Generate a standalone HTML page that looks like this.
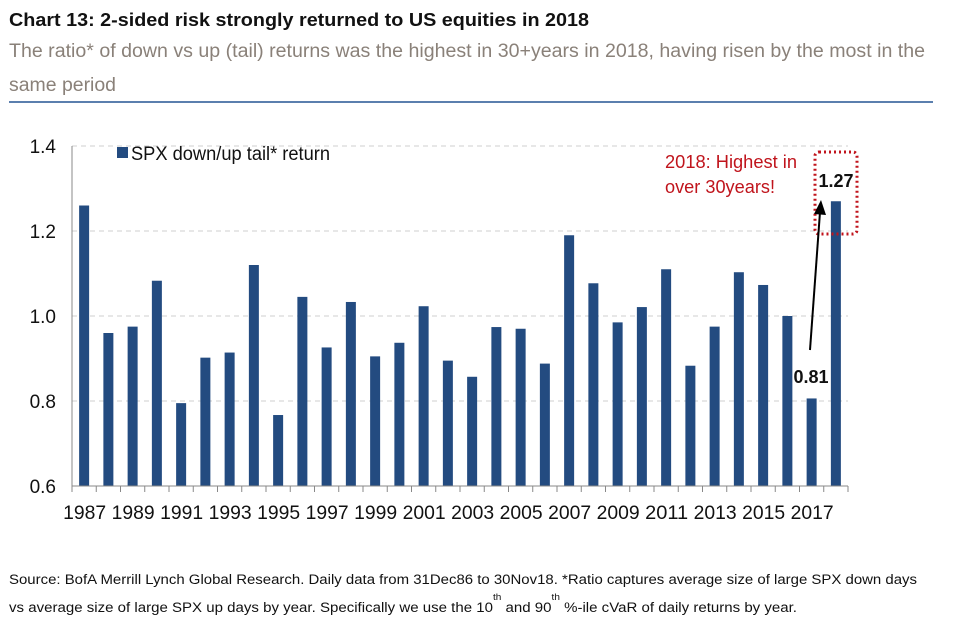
<!DOCTYPE html>
<html><head><meta charset="utf-8"><style>
html,body{margin:0;padding:0;background:#fff;}
svg{display:block;font-family:"Liberation Sans",Arial,sans-serif;}
</style></head><body>
<svg id="chart" width="960" height="637" viewBox="0 0 960 637">
<text x="9" y="26" font-size="18" font-weight="bold" fill="#111" textLength="580" lengthAdjust="spacingAndGlyphs">Chart 13: 2-sided risk strongly returned to US equities in 2018</text>
<text x="9" y="57" font-size="19" fill="#8a8179" textLength="916" lengthAdjust="spacingAndGlyphs">The ratio* of down vs up (tail) returns was the highest in 30+years in 2018, having risen by the most in the</text>
<text x="9" y="91" font-size="19" fill="#8a8179" textLength="107" lengthAdjust="spacingAndGlyphs">same period</text>
<line x1="9" y1="102" x2="933" y2="102" stroke="#5b7fae" stroke-width="2"/>
<g id="grid"></g>
<g id="bars"></g>
<g id="axes"></g>
<rect x="117" y="147" width="11" height="11" fill="#234b80"/>
<text x="131" y="160" font-size="19" fill="#111" textLength="199" lengthAdjust="spacingAndGlyphs">SPX down/up tail* return</text>
<text x="665" y="168" font-size="18" fill="#c0141c" textLength="132" lengthAdjust="spacingAndGlyphs">2018: Highest in</text>
<text x="665" y="193" font-size="18" fill="#c0141c" textLength="110" lengthAdjust="spacingAndGlyphs">over 30years!</text>
<rect x="815" y="152" width="42" height="82" rx="4" fill="none" stroke="#c0141c" stroke-width="3" stroke-dasharray="2 3"/>
<text x="836" y="187" font-size="18" font-weight="bold" fill="#111" text-anchor="middle">1.27</text>
<text x="811" y="383" font-size="18" font-weight="bold" fill="#111" text-anchor="middle">0.81</text>
<line x1="810" y1="350" x2="820" y2="212" stroke="#000" stroke-width="2"/>
<polygon points="821,200 814,214 826,215" fill="#000"/>
<text x="9" y="584" font-size="13.5" fill="#111" textLength="908" lengthAdjust="spacingAndGlyphs">Source: BofA Merrill Lynch Global Research. Daily data from 31Dec86 to 30Nov18. *Ratio captures average size of large SPX down days</text>
<text x="9" y="612" font-size="13.5" fill="#111" textLength="788" lengthAdjust="spacingAndGlyphs">vs average size of large SPX up days by year. Specifically we use the 10<tspan dy="-12" font-size="9">th</tspan><tspan dy="12"> and 90</tspan><tspan dy="-12" font-size="9">th</tspan><tspan dy="12"> %-ile cVaR of daily returns by year.</tspan></text>
</svg>
<script>
const years = [1987,1988,1989,1990,1991,1992,1993,1994,1995,1996,1997,1998,1999,2000,2001,2002,2003,2004,2005,2006,2007,2008,2009,2010,2011,2012,2013,2014,2015,2016,2017,2018];
const values = [1.26,0.96,0.975,1.083,0.795,0.902,0.914,1.12,0.767,1.045,0.926,1.033,0.905,0.937,1.023,0.895,0.857,0.974,0.97,0.888,1.19,1.077,0.985,1.021,1.11,0.883,0.975,1.103,1.073,1.0,0.806,1.27];
const yTicks = [0.6,0.8,1.0,1.2,1.4];
const yTickLabels = ["0.6","0.8","1.0","1.2","1.4"];
const NS = "http://www.w3.org/2000/svg";
const X0 = 72, X1 = 848, Y0 = 486, Y1 = 146, YMIN = 0.6, YMAX = 1.4;
const step = (X1 - X0) / years.length;
function xBand(i){ return X0 + i * step; }
function yScale(v){ return Y0 - (v - YMIN) / (YMAX - YMIN) * (Y0 - Y1); }
function mk(tag, attrs){ const e = document.createElementNS(NS, tag); for (const k in attrs) e.setAttribute(k, attrs[k]); return e; }
const grid = document.getElementById('grid'), bars = document.getElementById('bars'), axes = document.getElementById('axes');
yTicks.forEach((t, i) => {
  const y = yScale(t);
  if (i > 0) {
    const g = mk('line', {x1: X0, x2: X1, y1: y, y2: y, stroke: '#cfcfcf', 'stroke-width': 1, 'stroke-dasharray': '5 4'});
    
    
    grid.appendChild(g);
  }
  const lb = mk('text', {x: 56, y: y + 7, 'font-size': 19, 'text-anchor': 'end', fill: '#111'});
  lb.textContent = yTickLabels[i];
  
  
  axes.appendChild(lb);
});
values.forEach((v, i) => {
  const w = 10, cx = xBand(i) + step / 2;
  const r = mk('rect', {x: cx - w / 2, y: yScale(v), width: w, height: Y0 - yScale(v), fill: '#234b80'});
  
  
  bars.appendChild(r);
});
const ya = mk('line', {x1: X0, x2: X0, y1: Y1, y2: Y0, stroke: '#888', 'stroke-width': 1});


axes.appendChild(ya);
const xa = mk('line', {x1: X0, x2: X1, y1: Y0, y2: Y0, stroke: '#888', 'stroke-width': 1});


axes.appendChild(xa);
for (let i = 0; i <= years.length; i++) {
  const x = xBand(i);
  const tk = mk('line', {x1: x, x2: x, y1: Y0, y2: Y0 + 6, stroke: '#888', 'stroke-width': 1});
  
  
  axes.appendChild(tk);
}
years.forEach((yr, i) => {
  if (i % 2 !== 0) return;
  const t = mk('text', {x: xBand(i) + step / 2 - 21, y: Y0 + 33, 'font-size': 19, fill: '#111', textLength: 43, lengthAdjust: 'spacingAndGlyphs'});
  t.textContent = String(yr);
  
  
  axes.appendChild(t);
});
</script>
</body></html>
